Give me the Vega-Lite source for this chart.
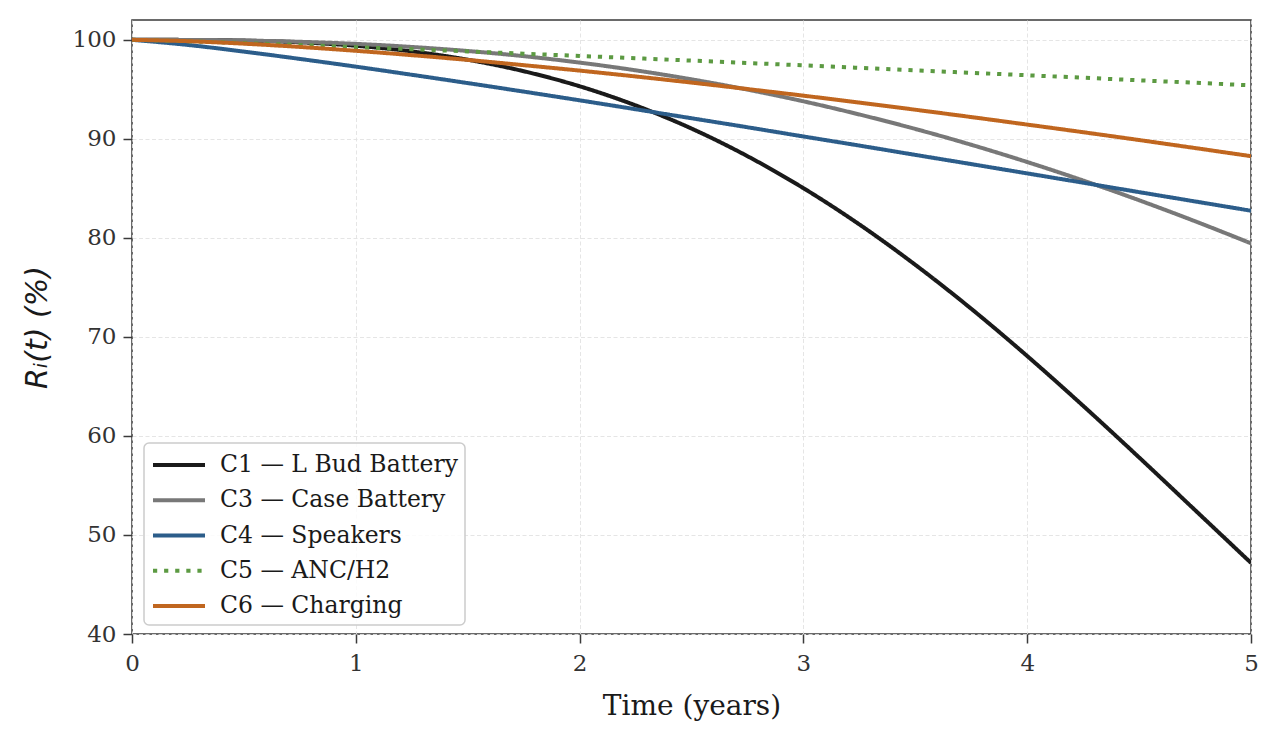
{
  "$schema": "https://vega.github.io/schema/vega-lite/v6.json",
  "width": 1119,
  "height": 614,
  "autosize": {"type": "none"},
  "padding": {"left": 132, "top": 20, "right": 29, "bottom": 106},
  "background": "white",
  "config": {
    "view": {"stroke": "#3a3a3a", "strokeWidth": 1.5},
    "axis": {
      "domain": false,
      "grid": true,
      "gridColor": "#e2e2e2",
      "gridDash": [4, 2.5],
      "gridWidth": 0.9,
      "ticks": true,
      "tickColor": "#3a3a3a",
      "tickSize": 9,
      "tickWidth": 1.5,
      "labelFont": "DejaVu Serif",
      "labelFontSize": 23,
      "labelColor": "#333333",
      "labelPadding": 7,
      "titleColor": "#1a1a1a",
      "titleFontWeight": "normal"
    },
    "legend": {
      "orient": "none",
      "legendX": 12,
      "legendY": 423,
      "strokeColor": "#cccccc",
      "strokeWidth": 1.5,
      "fillColor": "rgba(255,255,255,0.85)",
      "cornerRadius": 5,
      "padding": 7,
      "symbolType": "M-1,0H3",
      "symbolSize": 676,
      "symbolStrokeWidth": 4,
      "labelFont": "DejaVu Serif",
      "labelFontSize": 23.5,
      "labelColor": "#1a1a1a",
      "labelOffset": 39,
      "rowPadding": 8.25,
      "labelLimit": 400
    }
  },
  "data": {
    "values": [
      {"t": 0, "R": 100, "c": "C1 — L Bud Battery"},
      {"t": 0.25, "R": 99.99, "c": "C1 — L Bud Battery"},
      {"t": 0.5, "R": 99.92, "c": "C1 — L Bud Battery"},
      {"t": 0.75, "R": 99.75, "c": "C1 — L Bud Battery"},
      {"t": 1, "R": 99.40, "c": "C1 — L Bud Battery"},
      {"t": 1.25, "R": 98.83, "c": "C1 — L Bud Battery"},
      {"t": 1.5, "R": 97.99, "c": "C1 — L Bud Battery"},
      {"t": 1.75, "R": 96.83, "c": "C1 — L Bud Battery"},
      {"t": 2, "R": 95.31, "c": "C1 — L Bud Battery"},
      {"t": 2.25, "R": 93.38, "c": "C1 — L Bud Battery"},
      {"t": 2.5, "R": 91.04, "c": "C1 — L Bud Battery"},
      {"t": 2.75, "R": 88.25, "c": "C1 — L Bud Battery"},
      {"t": 3, "R": 85.02, "c": "C1 — L Bud Battery"},
      {"t": 3.25, "R": 81.36, "c": "C1 — L Bud Battery"},
      {"t": 3.5, "R": 77.28, "c": "C1 — L Bud Battery"},
      {"t": 3.75, "R": 72.84, "c": "C1 — L Bud Battery"},
      {"t": 4, "R": 68.07, "c": "C1 — L Bud Battery"},
      {"t": 4.25, "R": 63.04, "c": "C1 — L Bud Battery"},
      {"t": 4.5, "R": 57.83, "c": "C1 — L Bud Battery"},
      {"t": 4.75, "R": 52.51, "c": "C1 — L Bud Battery"},
      {"t": 5, "R": 47.18, "c": "C1 — L Bud Battery"},
      {"t": 0, "R": 100, "c": "C3 — Case Battery"},
      {"t": 0.25, "R": 99.99, "c": "C3 — Case Battery"},
      {"t": 0.5, "R": 99.93, "c": "C3 — Case Battery"},
      {"t": 0.75, "R": 99.80, "c": "C3 — Case Battery"},
      {"t": 1, "R": 99.59, "c": "C3 — Case Battery"},
      {"t": 1.25, "R": 99.28, "c": "C3 — Case Battery"},
      {"t": 1.5, "R": 98.87, "c": "C3 — Case Battery"},
      {"t": 1.75, "R": 98.35, "c": "C3 — Case Battery"},
      {"t": 2, "R": 97.70, "c": "C3 — Case Battery"},
      {"t": 2.25, "R": 96.92, "c": "C3 — Case Battery"},
      {"t": 2.5, "R": 96.01, "c": "C3 — Case Battery"},
      {"t": 2.75, "R": 94.97, "c": "C3 — Case Battery"},
      {"t": 3, "R": 93.79, "c": "C3 — Case Battery"},
      {"t": 3.25, "R": 92.46, "c": "C3 — Case Battery"},
      {"t": 3.5, "R": 91.00, "c": "C3 — Case Battery"},
      {"t": 3.75, "R": 89.40, "c": "C3 — Case Battery"},
      {"t": 4, "R": 87.66, "c": "C3 — Case Battery"},
      {"t": 4.25, "R": 85.79, "c": "C3 — Case Battery"},
      {"t": 4.5, "R": 83.80, "c": "C3 — Case Battery"},
      {"t": 4.75, "R": 81.68, "c": "C3 — Case Battery"},
      {"t": 5, "R": 79.45, "c": "C3 — Case Battery"},
      {"t": 0, "R": 100, "c": "C4 — Speakers"},
      {"t": 0.25, "R": 99.48, "c": "C4 — Speakers"},
      {"t": 0.5, "R": 98.81, "c": "C4 — Speakers"},
      {"t": 0.75, "R": 98.07, "c": "C4 — Speakers"},
      {"t": 1, "R": 97.29, "c": "C4 — Speakers"},
      {"t": 1.25, "R": 96.47, "c": "C4 — Speakers"},
      {"t": 1.5, "R": 95.63, "c": "C4 — Speakers"},
      {"t": 1.75, "R": 94.77, "c": "C4 — Speakers"},
      {"t": 2, "R": 93.89, "c": "C4 — Speakers"},
      {"t": 2.25, "R": 92.99, "c": "C4 — Speakers"},
      {"t": 2.5, "R": 92.08, "c": "C4 — Speakers"},
      {"t": 2.75, "R": 91.17, "c": "C4 — Speakers"},
      {"t": 3, "R": 90.24, "c": "C4 — Speakers"},
      {"t": 3.25, "R": 89.32, "c": "C4 — Speakers"},
      {"t": 3.5, "R": 88.38, "c": "C4 — Speakers"},
      {"t": 3.75, "R": 87.45, "c": "C4 — Speakers"},
      {"t": 4, "R": 86.51, "c": "C4 — Speakers"},
      {"t": 4.25, "R": 85.57, "c": "C4 — Speakers"},
      {"t": 4.5, "R": 84.62, "c": "C4 — Speakers"},
      {"t": 4.75, "R": 83.68, "c": "C4 — Speakers"},
      {"t": 5, "R": 82.74, "c": "C4 — Speakers"},
      {"t": 0, "R": 100, "c": "C5 — ANC/H2"},
      {"t": 0.25, "R": 99.85, "c": "C5 — ANC/H2"},
      {"t": 0.5, "R": 99.67, "c": "C5 — ANC/H2"},
      {"t": 0.75, "R": 99.47, "c": "C5 — ANC/H2"},
      {"t": 1, "R": 99.26, "c": "C5 — ANC/H2"},
      {"t": 1.25, "R": 99.05, "c": "C5 — ANC/H2"},
      {"t": 1.5, "R": 98.83, "c": "C5 — ANC/H2"},
      {"t": 1.75, "R": 98.60, "c": "C5 — ANC/H2"},
      {"t": 2, "R": 98.37, "c": "C5 — ANC/H2"},
      {"t": 2.25, "R": 98.14, "c": "C5 — ANC/H2"},
      {"t": 2.5, "R": 97.90, "c": "C5 — ANC/H2"},
      {"t": 2.75, "R": 97.66, "c": "C5 — ANC/H2"},
      {"t": 3, "R": 97.42, "c": "C5 — ANC/H2"},
      {"t": 3.25, "R": 97.17, "c": "C5 — ANC/H2"},
      {"t": 3.5, "R": 96.92, "c": "C5 — ANC/H2"},
      {"t": 3.75, "R": 96.67, "c": "C5 — ANC/H2"},
      {"t": 4, "R": 96.42, "c": "C5 — ANC/H2"},
      {"t": 4.25, "R": 96.17, "c": "C5 — ANC/H2"},
      {"t": 4.5, "R": 95.91, "c": "C5 — ANC/H2"},
      {"t": 4.75, "R": 95.66, "c": "C5 — ANC/H2"},
      {"t": 5, "R": 95.40, "c": "C5 — ANC/H2"},
      {"t": 0, "R": 100, "c": "C6 — Charging"},
      {"t": 0.25, "R": 99.86, "c": "C6 — Charging"},
      {"t": 0.5, "R": 99.61, "c": "C6 — Charging"},
      {"t": 0.75, "R": 99.28, "c": "C6 — Charging"},
      {"t": 1, "R": 98.89, "c": "C6 — Charging"},
      {"t": 1.25, "R": 98.45, "c": "C6 — Charging"},
      {"t": 1.5, "R": 97.97, "c": "C6 — Charging"},
      {"t": 1.75, "R": 97.44, "c": "C6 — Charging"},
      {"t": 2, "R": 96.89, "c": "C6 — Charging"},
      {"t": 2.25, "R": 96.30, "c": "C6 — Charging"},
      {"t": 2.5, "R": 95.68, "c": "C6 — Charging"},
      {"t": 2.75, "R": 95.03, "c": "C6 — Charging"},
      {"t": 3, "R": 94.36, "c": "C6 — Charging"},
      {"t": 3.25, "R": 93.66, "c": "C6 — Charging"},
      {"t": 3.5, "R": 92.94, "c": "C6 — Charging"},
      {"t": 3.75, "R": 92.20, "c": "C6 — Charging"},
      {"t": 4, "R": 91.44, "c": "C6 — Charging"},
      {"t": 4.25, "R": 90.67, "c": "C6 — Charging"},
      {"t": 4.5, "R": 89.88, "c": "C6 — Charging"},
      {"t": 4.75, "R": 89.07, "c": "C6 — Charging"},
      {"t": 5, "R": 88.25, "c": "C6 — Charging"}
    ]
  },
  "mark": {"type": "line", "strokeWidth": 4, "interpolate": "monotone", "strokeCap": "butt", "clip": true},
  "encoding": {
    "x": {
      "field": "t",
      "type": "quantitative",
      "scale": {"domain": [0, 5], "nice": false, "zero": false},
      "axis": {"values": [0, 1, 2, 3, 4, 5], "title": "Time (years)", "titleFont": "DejaVu Serif", "titleFontSize": 28, "titlePadding": 17, "labelPadding": 9, "labelFlush": false}
    },
    "y": {
      "field": "R",
      "type": "quantitative",
      "scale": {"domain": [40, 102], "nice": false, "zero": false},
      "axis": {"values": [40, 50, 60, 70, 80, 90, 100], "title": "Rᵢ(t) (%)", "titleFont": "DejaVu Sans", "titleFontStyle": "italic", "titleFontSize": 30, "titlePadding": 20}
    },
    "color": {
      "field": "c",
      "type": "nominal",
      "title": null,
      "scale": {
        "domain": ["C1 — L Bud Battery", "C3 — Case Battery", "C4 — Speakers", "C5 — ANC/H2", "C6 — Charging"],
        "range": ["#1a1a1a", "#787878", "#2c5d8a", "#5c9a42", "#c0661f"]
      }
    },
    "strokeDash": {
      "field": "c",
      "type": "nominal",
      "title": null,
      "scale": {
        "domain": ["C1 — L Bud Battery", "C3 — Case Battery", "C4 — Speakers", "C5 — ANC/H2", "C6 — Charging"],
        "range": [[1, 0], [1, 0], [1, 0], [4.2, 6.9], [1, 0]]
      }
    }
  }
}
